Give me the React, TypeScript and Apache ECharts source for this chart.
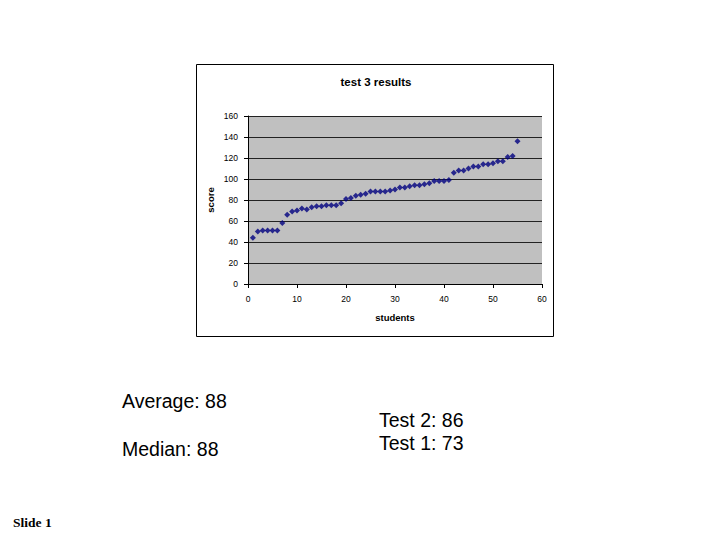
import { useEffect, useRef } from 'react';
import * as echarts from 'echarts';

// student index (x) and test 3 score (y)
const students = [
  1, 2, 3, 4, 5, 6, 7, 8, 9, 10, 11, 12, 13, 14, 15, 16, 17, 18, 19, 20,
  21, 22, 23, 24, 25, 26, 27, 28, 29, 30, 31, 32, 33, 34, 35, 36, 37, 38, 39, 40,
  41, 42, 43, 44, 45, 46, 47, 48, 49, 50, 51, 52, 53, 54, 55,
];
const scores = [
  44, 50, 51, 51, 51, 51, 58, 66, 69, 70, 72, 71, 73, 74, 74, 75, 75, 75, 77, 81,
  82, 84, 85, 86, 88, 88, 88, 88, 89, 90, 92, 92, 93, 94, 94, 95, 96, 98, 98, 98,
  99, 106, 108, 108, 110, 112, 112, 114, 114, 115, 117, 117, 121, 122, 136,
];

const statsLeft = ['Average: 88', 'Median: 88'];
const statsRight = ['Test 2: 86', 'Test 1: 73'];

const App = () => {
  const chartRef = useRef<HTMLDivElement>(null);

  useEffect(() => {
    if (!chartRef.current) return;
    const chart = echarts.init(chartRef.current, undefined, { renderer: 'svg' });

    const big = { fontFamily: 'Liberation Sans, Arial, sans-serif', fontSize: 19.5, fill: '#000' };

    chart.setOption({
      animation: false,
      backgroundColor: '#fff',
      textStyle: { fontFamily: 'Liberation Sans, Arial, sans-serif' },
      grid: {
        left: 248,
        right: 178,
        top: 116,
        bottom: 256,
        show: true,
        backgroundColor: '#c0c0c0',
        borderWidth: 0,
      },
      xAxis: {
        type: 'value',
        min: 0,
        max: 60,
        interval: 10,
        name: 'students',
        nameLocation: 'middle',
        nameGap: 28,
        nameTextStyle: { fontSize: 9.5, fontWeight: 'bold', color: '#000' },
        axisLine: { show: true, onZero: false, lineStyle: { color: '#000', width: 1 } },
        axisTick: { show: true, length: 4, lineStyle: { color: '#000' } },
        axisLabel: { fontSize: 8.5, color: '#000', margin: 10 },
        splitLine: { show: false },
      },
      yAxis: {
        type: 'value',
        min: 0,
        max: 160,
        interval: 20,
        name: 'score',
        nameLocation: 'middle',
        nameGap: 33,
        nameRotate: 90,
        nameTextStyle: { fontSize: 9.5, fontWeight: 'bold', color: '#000' },
        axisLine: { show: true, lineStyle: { color: '#000', width: 1 } },
        axisTick: { show: true, length: 4, lineStyle: { color: '#000' } },
        axisLabel: { fontSize: 8.5, color: '#000', margin: 10 },
        splitLine: { show: true, lineStyle: { color: '#222', width: 1 } },
      },
      series: [
        {
          type: 'scatter',
          data: students.map((s, i) => [s, scores[i]]),
          symbol: 'diamond',
          symbolSize: 6,
          itemStyle: { color: '#000080' },
        },
      ],
      graphic: [
        {
          type: 'rect',
          shape: { x: 196.5, y: 64.5, width: 357, height: 272 },
          style: { fill: 'none', stroke: '#000', lineWidth: 1 },
          silent: true,
        },
        {
          type: 'text',
          x: 376,
          y: 82,
          style: {
            text: 'test 3 results',
            fontFamily: 'Liberation Sans, Arial, sans-serif',
            fontSize: 11.5,
            fontWeight: 'bold',
            fill: '#000',
            textAlign: 'center',
            textVerticalAlign: 'middle',
          },
        },
        {
          type: 'text',
          x: 122,
          y: 400.5,
          style: { ...big, text: statsLeft[0], textVerticalAlign: 'middle' },
        },
        {
          type: 'text',
          x: 122,
          y: 448.5,
          style: { ...big, text: statsLeft[1], textVerticalAlign: 'middle' },
        },
        {
          type: 'text',
          x: 379,
          y: 419.5,
          style: { ...big, text: statsRight[0], textVerticalAlign: 'middle' },
        },
        {
          type: 'text',
          x: 379,
          y: 442.5,
          style: { ...big, text: statsRight[1], textVerticalAlign: 'middle' },
        },
        {
          type: 'text',
          x: 13,
          y: 522.5,
          style: {
            text: 'Slide 1',
            fontFamily: 'Liberation Serif, Times New Roman, serif',
            fontSize: 13.5,
            fontWeight: 'bold',
            fill: '#000',
            textVerticalAlign: 'middle',
          },
        },
      ],
    });

    return () => {
      chart.dispose();
    };
  }, []);

  return (
    <div
      ref={chartRef}
      style={{ position: 'fixed', left: 0, top: 0, width: 720, height: 540 }}
    ></div>
  );
};

export default App;
